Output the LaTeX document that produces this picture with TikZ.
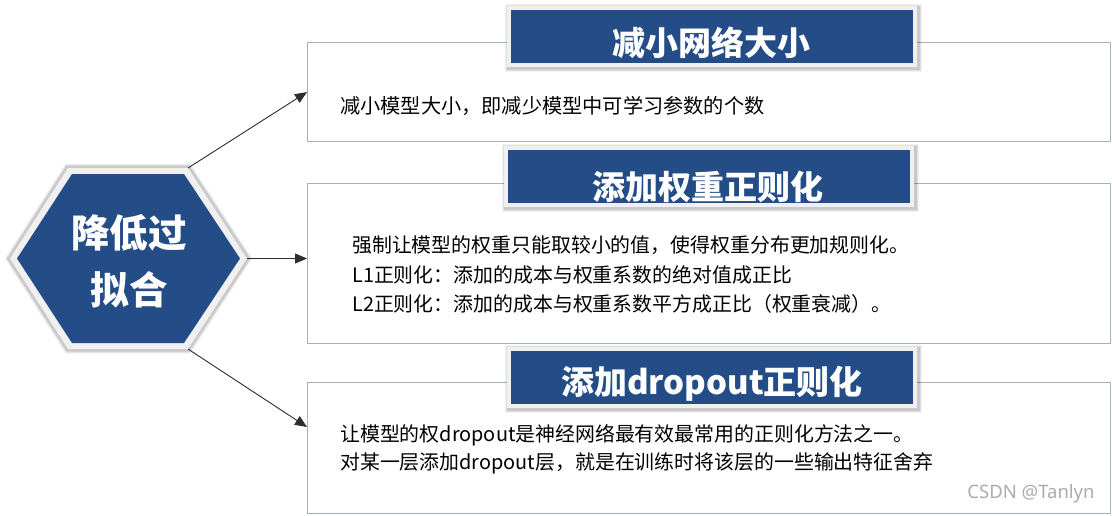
\documentclass[tikz,border=0pt]{standalone}
\usepackage{fontspec}
\newfontfamily\cjk{Noto Sans CJK SC}
\newfontfamily\wmfont{Noto Sans}
\usetikzlibrary{arrows.meta}
\definecolor{navy}{RGB}{36,77,136}
\definecolor{boxline}{RGB}{168,176,188}
\definecolor{arrowc}{RGB}{45,45,45}
\definecolor{tabedge}{RGB}{240,240,240}
\definecolor{wmgray}{RGB}{172,172,172}
\newcommand\mytab[5]{%
  \foreach \e/\o in {7.5/0.05,6.5/0.07,5.5/0.10}{%
    \fill[black,opacity=\o] ({#2-\e+1},{#3-\e+1.5}) rectangle ({#4+\e+1},{#5+\e+1.5});}
  \fill[tabedge] ({#2-4},{#3-4}) rectangle ({#4+4},{#5+4});
  \node[fill=navy, inner sep=0pt, outer sep=0pt, anchor=north west,
        minimum width={#4-#2}, minimum height={#5-#3}] (#1) at (#2,#3) {};
}
\begin{document}
\begin{tikzpicture}[x=1pt,y=-1pt,
  panel/.style={draw=boxline, line width=1.2pt, fill=white, inner sep=0pt, anchor=north west},
  conn/.style={draw=arrowc, line width=0.9pt, -{Triangle[length=12pt,width=10pt]}},
  body/.style={anchor=west, inner sep=0pt, align=left, text=black},
  title/.style={text=white, inner sep=0pt, font=\cjk\bfseries\fontsize{33}{33}\selectfont},
  hextext/.style={text=white, inner sep=0pt, align=center, font=\cjk\bfseries\fontsize{38.5}{57}\selectfont},
]
\useasboundingbox (0,0) rectangle (1112,515);
\fill[white] (0,0) rectangle (1112,515);

% panels
\node[panel, minimum width=803, minimum height=99] (box1) at (307,42) {};
\node[panel, minimum width=803, minimum height=160] (box2) at (307,183) {};
\node[panel, minimum width=803, minimum height=131] (box3) at (307,382) {};

% tabs
\mytab{tab1}{511}{10}{913}{63}
\mytab{tab2}{508}{150}{910}{203}
\mytab{tab3}{511}{351}{913}{404}
\node[title] (tab1t) at (711,43) {减小网络大小};
\node[title] (tab2t) at (708,187) {添加权重正则化};
\node[title] (tab3t) at (712,384) {添加dropout正则化};

% hexagon
\foreach \w/\o in {9/0.05,7/0.07,5/0.10}{%
  \draw[black, opacity=\o, line width=\w pt, line join=miter]
    (10,258.5)--(68,168)--(188,168)--(247,258.5)--(188,349)--(68,349)--cycle;}
\fill[tabedge] (10,258.5)--(68,168)--(188,168)--(247,258.5)--(188,349)--(68,349)--cycle;
\fill[navy] (17,258.5)--(72,174)--(184,174)--(240,258.5)--(184,343)--(72,343)--cycle;
\coordinate (hexTR) at (188,168);
\coordinate (hexR) at (247,258.5);
\coordinate (hexBR) at (188,349);
\node[hextext] (hex) at (129,261.5) {降低过\\拟合};

% connectors
\coordinate (b3in) at (box3.west |- 0,427);
\draw[conn] (hexTR) -- (box1.west);
\draw[conn] (hexR) -- (box2.west |- hexR);
\draw[conn] (hexBR) -- (b3in);

% body text
\node[body, font=\cjk\fontsize{20.2}{29}\selectfont] (txt1) at (340,106) {减小模型大小，即减少模型中可学习参数的个数};
\node[body, font=\cjk\fontsize{19.9}{29.5}\selectfont] (txt2) at (352,275) {强制让模型的权重只能取较小的值，使得权重分布更加规则化。\\L1正则化：添加的成本与权重系数的绝对值成正比\\L2正则化：添加的成本与权重系数平方成正比（权重衰减）。};
\node[body, font=\cjk\fontsize{19.9}{28}\selectfont] (txt3) at (340,449) {让模型的权dropout是神经网络最有效最常用的正则化方法之一。\\对某一层添加dropout层，就是在训练时将该层的一些输出特征舍弃};

% watermark
\node[text=wmgray, inner sep=0pt, font=\wmfont\fontsize{18.5}{18.5}\selectfont] (wm) at (1031,494) {CSDN @Tanlyn};
\end{tikzpicture}
\end{document}
